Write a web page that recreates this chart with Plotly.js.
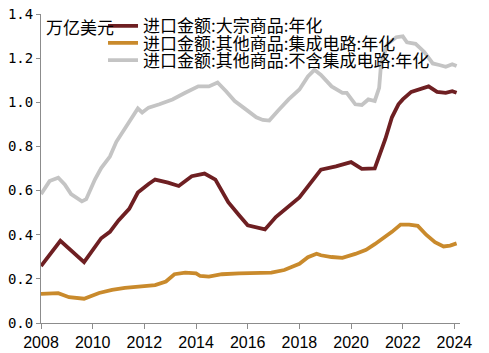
<!DOCTYPE html>
<html><head><meta charset="utf-8">
<script src="https://cdn.plot.ly/plotly-3.0.1.min.js"></script>
<style>html,body{margin:0;padding:0;background:#fff}#chart{width:489px;height:353px}</style>
</head><body><div id="chart"></div>
<script>
// 进口金额:大宗商品:年化 (万亿美元)
const bulkDates = ["2008-01","2008-10","2009-09","2010-05","2010-09","2011-01","2011-06","2011-10","2012-03","2012-06","2012-12","2013-05","2013-11","2014-05","2014-10","2015-04","2015-09","2016-01","2016-09","2017-02","2018-01","2018-11","2019-06","2020-01","2020-06","2020-12","2021-05","2021-08","2021-11","2022-01","2022-05","2022-09","2023-01","2023-05","2023-09","2023-12","2024-02"];
const bulkValues = [0.258,0.372,0.276,0.384,0.413,0.465,0.517,0.591,0.630,0.650,0.636,0.621,0.665,0.677,0.650,0.547,0.488,0.443,0.424,0.480,0.569,0.695,0.710,0.729,0.698,0.700,0.835,0.932,0.991,1.013,1.047,1.058,1.072,1.047,1.043,1.050,1.043];

// 进口金额:其他商品:集成电路:年化
const icDates = ["2008-01","2008-07","2008-09","2009-02","2009-09","2010-04","2010-10","2011-04","2011-10","2012-06","2012-11","2013-03","2013-08","2014-01","2014-03","2014-07","2015-01","2015-09","2016-12","2017-06","2018-01","2018-05","2018-09","2018-11","2019-04","2019-09","2020-03","2020-08","2020-12","2021-04","2021-08","2021-12","2022-04","2022-08","2022-12","2023-04","2023-08","2023-11","2024-02"];
const icValues = [0.132,0.136,0.135,0.117,0.110,0.136,0.150,0.159,0.164,0.172,0.188,0.221,0.228,0.225,0.213,0.210,0.221,0.225,0.228,0.240,0.268,0.298,0.314,0.307,0.299,0.295,0.313,0.332,0.357,0.384,0.413,0.446,0.446,0.440,0.399,0.366,0.347,0.351,0.361];

// 进口金额:其他商品:不含集成电路:年化
const otherDates = ["2008-01","2008-05","2008-09","2008-12","2009-03","2009-08","2009-10","2010-02","2010-05","2010-09","2010-12","2011-03","2011-07","2011-10","2011-12","2012-03","2012-08","2013-02","2013-08","2014-02","2014-07","2014-11","2015-03","2015-07","2015-12","2016-05","2016-08","2016-11","2017-03","2017-08","2018-01","2018-05","2018-08","2018-11","2019-04","2019-09","2019-11","2020-03","2020-06","2020-09","2020-12","2021-02","2021-03","2021-06","2021-10","2022-01","2022-03","2022-07","2022-11","2023-03","2023-06","2023-09","2023-12","2024-02"];
const otherValues = [0.584,0.643,0.658,0.628,0.584,0.551,0.561,0.650,0.702,0.754,0.821,0.865,0.924,0.972,0.954,0.976,0.991,1.013,1.043,1.072,1.072,1.090,1.050,1.006,0.969,0.932,0.920,0.917,0.961,1.013,1.058,1.117,1.147,1.124,1.072,1.043,1.043,0.991,0.988,1.013,1.006,1.065,1.176,1.265,1.295,1.299,1.272,1.265,1.228,1.176,1.169,1.161,1.172,1.164];

const seriesNames = ["进口金额:大宗商品:年化","进口金额:其他商品:集成电路:年化","进口金额:其他商品:不含集成电路:年化"];
const unitLabel = "万亿美元";
const yTicks = [0,0.2,0.4,0.6,0.8,1.0,1.2,1.4];
const xTicks = ["2008-01-01","2010-01-01","2012-01-01","2014-01-01","2016-01-01","2018-01-01","2020-01-01","2022-01-01","2024-01-01"];
const xTickText = ["2008","2010","2012","2014","2016","2018","2020","2022","2024"];

const cjk = '"Noto Sans CJK SC", "Noto Sans", sans-serif';
const traces = [
  {x: bulkDates, y: bulkValues, name: seriesNames[0], mode: "lines", line: {color: "#6e1f22", width: 3.8}, legend: "legend"},
  {x: icDates, y: icValues, name: seriesNames[1], mode: "lines", line: {color: "#c98a2c", width: 3.8}, legend: "legend2"},
  {x: otherDates, y: otherValues, name: seriesNames[2], mode: "lines", line: {color: "#c4c4c4", width: 3.8}, legend: "legend3"}
];
function leg(yc) {
  return {x: 0.148, y: yc, xanchor: "left", yanchor: "middle", bgcolor: "rgba(0,0,0,0)", borderwidth: 0,
          font: {family: cjk, size: 17, color: "#000"}, itemwidth: 30};
}
const layout = {
  width: 489, height: 353,
  margin: {l: 41, r: 29, t: 8, b: 30},
  paper_bgcolor: "#fff", plot_bgcolor: "#fff",
  showlegend: true,
  legend: leg(0.9603), legend2: leg(0.9048), legend3: leg(0.8492),
  xaxis: {type: "date", range: ["2008-01-01", "2024-03-20"], tickvals: xTicks, ticktext: xTickText,
          showgrid: false, zeroline: false, showline: true, linecolor: "#8c8c8c", linewidth: 1,
          ticks: "outside", ticklen: 5, tickcolor: "#8c8c8c",
          tickfont: {family: '"Liberation Sans Narrow", "Liberation Sans", Arial, sans-serif', size: 16, color: "#000"}},
  yaxis: {range: [0, 1.4001], tickvals: yTicks, tickformat: ".1f",
          showgrid: false, zeroline: false, showline: true, linecolor: "#8c8c8c", linewidth: 1,
          ticks: "outside", ticklen: 4, tickcolor: "#8c8c8c",
          tickfont: {family: '"DejaVu Sans Mono", monospace', size: 14, color: "#000"}},
  annotations: [{text: unitLabel, xref: "paper", yref: "paper", x: 0.008, y: 0.9603, xanchor: "left", yanchor: "middle",
                 showarrow: false, font: {family: cjk, size: 17, color: "#000"}}]
};
Plotly.newPlot("chart", traces, layout, {displayModeBar: false, staticPlot: true});
</script></body></html>
